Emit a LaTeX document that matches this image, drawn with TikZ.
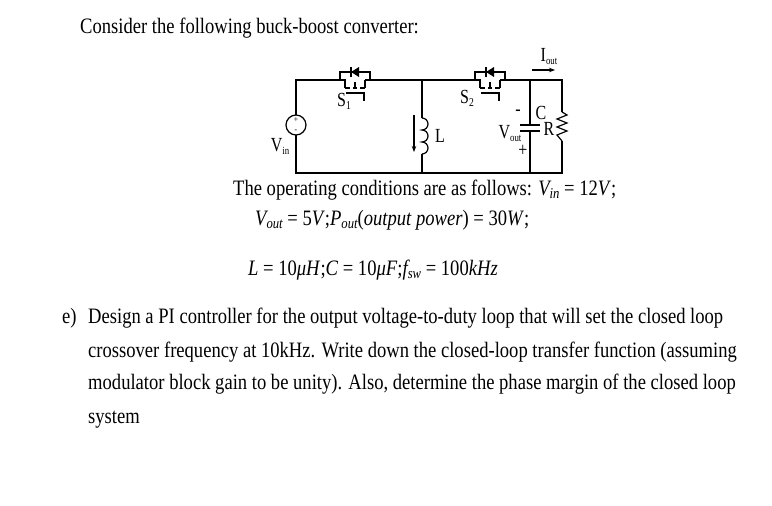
\documentclass[tikz,border=0pt]{standalone}
\usepackage{fontspec}
\setmainfont{Liberation Serif}[FakeStretch=0.845]
\newfontfamily\cirf{Liberation Serif}[FakeStretch=0.8]
\usetikzlibrary{arrows.meta}
\begin{document}
\begin{tikzpicture}[x=1pt,y=-1pt,
  txt/.style={anchor=west,inner sep=0pt,font=\fontsize{22}{24}\selectfont},
  lab/.style={inner sep=0pt,font=\cirf\fontsize{20}{20}\selectfont},
  w/.style={line width=1.2pt}]
\useasboundingbox (0,0) rectangle (772,506);
\node[txt] (t0) at (80,28) {Consider the following buck-boost converter:};
% circuit wires
\draw[w] (296,115) -- (296,80) -- (340,80);
\draw[w] (370,80) -- (475,80);
\draw[w] (505,80) -- (562,80) -- (562,112);
\draw[w] (562,141) -- (562,173) -- (296,173) -- (296,135);
\draw[w] (422,80) -- (422,118);
\draw[w] (422,154) -- (422,173);
\draw[w] (530,80) -- (530,125);
\draw[w] (530,131) -- (530,173);
% source
\draw[w] (296,125) circle (10);
\node[inner sep=0pt,font=\fontsize{9}{9}\selectfont] (sp) at (296,119.5) {+};
\node[inner sep=0pt,font=\fontsize{9}{9}\selectfont] (sm) at (296,131) {-};
\node[lab] (vin) at (280,146) {V\raisebox{-3pt}{\fontsize{11}{11}\selectfont in}};
% switches
\foreach \x in {340,475}{
  \draw[w] (\x,80) -- (\x+5,80) -- (\x+5,88);
  \draw[w] (\x+25,80) -- (\x+30,80);
  \draw[w] (\x+25,80) -- (\x+25,88);
  \draw[w] (\x+5,88) -- (\x+10,88) (\x+13,88) -- (\x+17,88) (\x+20,88) -- (\x+25,88);
  \draw[w] (\x+15,88) -- (\x+15,82);
  \draw[w] (\x+6,93) -- (\x+24,93) -- (\x+24,101);
  \draw[w] (\x,80) -- (\x,72) -- (\x+30,72) -- (\x+30,80);
  \fill (\x+11,72) -- (\x+19,67) -- (\x+19,77) -- cycle;
  \draw[w] (\x+11,67) -- (\x+11,77);
}
\node[lab] (s1) at (344,101) {S\raisebox{-3pt}{\fontsize{12}{12}\selectfont 1}};
\node[lab] (s2) at (467,98) {S\raisebox{-3pt}{\fontsize{12}{12}\selectfont 2}};
% inductor
\draw[w] (422,118) arc[start angle=-90,end angle=90,radius=6] arc[start angle=-90,end angle=90,radius=6] arc[start angle=-90,end angle=90,radius=6];
\draw[w,-{Stealth[length=6pt]}] (414,115) -- (414,152);
\node[lab] (L) at (440,136) {L};
% capacitor
\draw[w] (520,125) -- (540,125) (520,131) -- (540,131);
\node[lab] (cm) at (518,113) {-};
\node[lab] (C) at (541,113) {C};
\node[lab] (vout) at (510,134) {V\raisebox{-3pt}{\fontsize{11}{11}\selectfont out}};
\node[lab] (cp) at (523,151) {+};
% resistor
\draw[w] (562,112) -- (567,115) -- (557,119) -- (567,123) -- (557,127) -- (567,131) -- (557,135) -- (562,141);
\node[lab] (R) at (549,129) {R};
\draw[w,-{Stealth[length=6pt]}] (532,70) -- (555,70);
\node[lab] (iout) at (549,57) {I\raisebox{-3pt}{\fontsize{11}{11}\selectfont out}};
% text
\node[txt] (t1) at (233,190) {The operating conditions are as follows: \textit{V\raisebox{-3pt}{\fontsize{15}{15}\selectfont in}} = 12\textit{V};};
\node[txt] (t2) at (255,220) {\textit{V\raisebox{-3pt}{\fontsize{15}{15}\selectfont out}} = 5\textit{V};\textit{P\raisebox{-3pt}{\fontsize{15}{15}\selectfont out}}(\textit{output power}) = 30\textit{W};};
\node[txt] (t3) at (248,270) {\textit{L} = 10\textit{μH};\textit{C} = 10\textit{μF};\textit{f\raisebox{-3pt}{\fontsize{15}{15}\selectfont sw}} = 100\textit{kHz}};
\node[txt] (e) at (62,318) {e)};
\node[txt] (p1) at (88,318) {Design a PI controller for the output voltage-to-duty loop that will set the closed loop};
\node[txt] (p2) at (88,352) {crossover frequency at 10kHz. Write down the closed-loop transfer function (assuming};
\node[txt] (p3) at (88,384) {modulator block gain to be unity). Also, determine the phase margin of the closed loop};
\node[txt] (p4) at (88,420) {system};
\end{tikzpicture}
\end{document}
